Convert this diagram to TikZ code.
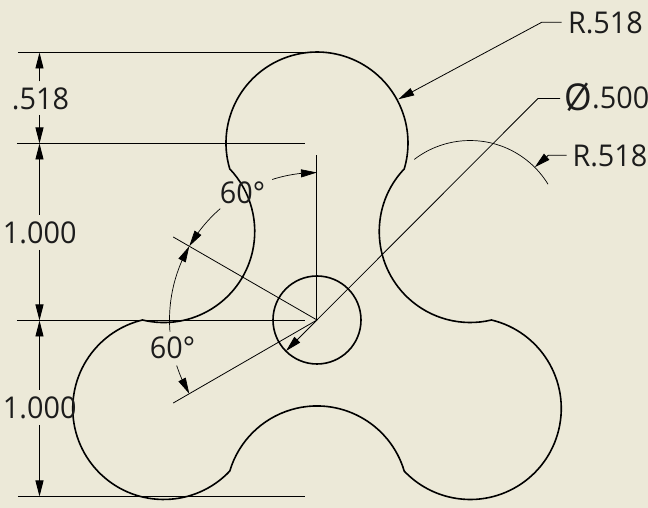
\documentclass[tikz,border=0pt]{standalone}
\usepackage{fontspec}
\setmainfont[FakeStretch=0.96]{Open Sans}
\usetikzlibrary{arrows.meta,bending}
\definecolor{paper}{HTML}{ECE9D8}
\definecolor{ink}{HTML}{1C1C1C}
\tikzset{
  outline/.style={draw=black,line width=1.6pt,line join=miter},
  ext/.style={draw=black,line width=1pt},
  dim/.style={draw=black,line width=0.9pt,-{Triangle[length=16pt,width=8pt]}},
  thin arc/.style={draw=black,line width=0.7pt},
  lead/.style={draw=black,line width=0.8pt},
  lbl/.style={anchor=base west,inner sep=0pt,outer sep=0pt,text=ink,font=\fontsize{30}{32}\selectfont},
}
\begin{document}
\begin{tikzpicture}[x=1pt,y=1pt]
\useasboundingbox (-317,-188) rectangle (331,320);
\fill[paper] (-317,-188) rectangle (331,320);
% outline: six arcs of radius 91
\draw[outline] (120:174.5pt)
  arc[start angle=196.5,end angle=-16.5,radius=91pt]
  arc[start angle=136.5,end angle=283.5,radius=91pt]
  arc[start angle=76.5,end angle=-136.5,radius=91pt]
  arc[start angle=16.5,end angle=163.5,radius=91pt]
  arc[start angle=-43.5,end angle=-256.5,radius=91pt]
  arc[start angle=-103.5,end angle=43.5,radius=91pt]
  -- cycle;
\draw[outline] (0,0) circle[radius=44pt];
% named points
\coordinate (O) at (0,0);
\coordinate (e1a) at (-299,267.5); \coordinate (e1b) at (-12,267.5);
\coordinate (e2a) at (-300,176.5); \coordinate (e2b) at (-12,176.5);
\coordinate (e3a) at (-300,-0.5);  \coordinate (e3b) at (-12,-0.5);
\coordinate (e4a) at (-299,-176.5);\coordinate (e4b) at (-12,-176.5);
\coordinate (vtop) at (0,165);
\coordinate (l150) at (150:166pt);
\coordinate (l210) at (210:166pt);
% extension lines
\draw[ext] (e1a)--(e1b);
\draw[ext] (e2a)--(e2b);
\draw[ext] (e3a)--(e3b);
\draw[ext] (e4a)--(e4b);
\draw[ext] (O)--(vtop);
\draw[lead] (O)--(l150);
\draw[lead] (O)--(l210);
% vertical dimensions
\coordinate (d1) at (-277.5,267.5); \coordinate (d1t) at (-277.5,238.5);
\coordinate (d2) at (-277.5,176.5); \coordinate (d2t) at (-277.5,205);
\coordinate (d3) at (-277.5,176.5); \coordinate (d3t) at (-277.5,105);
\coordinate (d4) at (-277.5,-0.5);  \coordinate (d4t) at (-277.5,70);
\coordinate (d5) at (-277.5,-0.5);  \coordinate (d5t) at (-277.5,-70);
\coordinate (d6) at (-277.5,-176.5);\coordinate (d6t) at (-277.5,-105);
\draw[dim] (d1t)--(d1);
\draw[dim] (d2t)--(d2);
\draw[dim] (d3t)--(d3);
\draw[dim] (d4t)--(d4);
\draw[dim] (d5t)--(d5);
\draw[dim] (d6t)--(d6);
% angular dimensions
\draw[thin arc,-{Triangle[length=16pt,width=8pt]}] (107.7:147.5pt) arc[start angle=107.7,end angle=90,radius=147.5pt];
\draw[thin arc,-{Triangle[length=16pt,width=8pt]}] (131:147.5pt) arc[start angle=131,end angle=150,radius=147.5pt];
\draw[thin arc,-{Triangle[length=16pt,width=8pt]}] (184.5:147.5pt) arc[start angle=184.5,end angle=150,radius=147.5pt];
\draw[thin arc,-{Triangle[length=16pt,width=8pt]}] (198:147.5pt) arc[start angle=198,end angle=210,radius=147.5pt];
% leaders
\coordinate (r1e) at (244.5,297.7); \coordinate (r1k) at (224.7,297.7); \coordinate (r1t) at (81.3,220.7);
\draw[lead,-{Triangle[length=16pt,width=8pt]}] (r1e)--(r1k)--(r1t);
\coordinate (de) at (243,221.5); \coordinate (dk) at (221,221.5); \coordinate (dt) at (-31,-31);
\draw[lead,-{Triangle[length=16pt,width=8pt]}] (de)--(dk)--(dt);
\coordinate (r2e) at (249.7,164.7); \coordinate (r2k) at (231.3,164.7); \coordinate (r2t) at (217.7,152.7);
\draw[lead,-{Triangle[length=16pt,width=8pt]}] (r2e)--(r2k)--(r2t);
% reference arc for the second radius
\draw[thin arc] (153,88) ++(127.5:91.5pt) arc[start angle=127.5,end angle=31.5,radius=91.5pt];
% labels
\node[lbl] (tr1) at (251,286) {R.518};
\node[lbl] (tdia) at (247.5,211.5) {\raisebox{-2pt}{\fontsize{37}{37}\selectfont Ø}.500};
\node[lbl] (tr2) at (255.5,153.3) {R.518};
\node[lbl] (t518) at (-305,210.5) {.518};
\node[lbl] (t1a) at (-314,76.5) {1.000};
\node[lbl] (t1b) at (-314,-98.5) {1.000};
\node[lbl] (t60a) at (-97,116.5) {60°};
\node[lbl] (t60b) at (-167,-38.5) {60°};
\end{tikzpicture}
\end{document}
